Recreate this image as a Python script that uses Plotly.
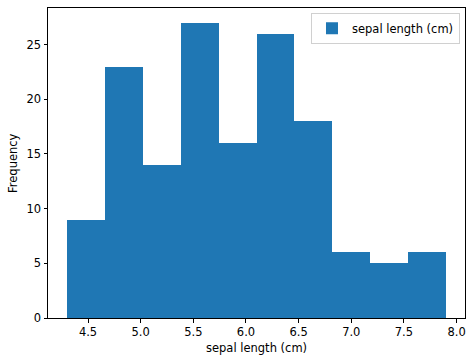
import plotly.graph_objects as go

bin_edges = [4.3, 4.66, 5.02, 5.38, 5.74, 6.1, 6.46, 6.82, 7.18, 7.54, 7.9]
counts = [9, 23, 14, 27, 16, 26, 18, 6, 5, 6]
x_ticks = [4.5, 5.0, 5.5, 6.0, 6.5, 7.0, 7.5, 8.0]
y_ticks = [0, 5, 10, 15, 20, 25]
series_name = "sepal length (cm)"

centers = [(bin_edges[i] + bin_edges[i + 1]) / 2 for i in range(len(counts))]
widths = [bin_edges[i + 1] - bin_edges[i] for i in range(len(counts))]

fig = go.Figure()
fig.add_trace(go.Bar(
    x=centers, y=counts, width=widths, name=series_name,
    marker=dict(color="#1f77b4", line=dict(width=0)),
    showlegend=True,
))

FS = 11.5
font = dict(family="DejaVu Sans", size=FS, color="black")
W, H = 474, 363
L, R, T, B = 48, 9, 8, 45
fig.update_layout(
    width=W, height=H,
    margin=dict(l=L, r=R, t=T, b=B),
    paper_bgcolor="white", plot_bgcolor="white",
    font=font,
    bargap=0,
    legend=dict(x=0.988, y=0.985, xanchor="right", yanchor="top",
                bgcolor="rgba(255,255,255,0.8)", bordercolor="#d0d0d0", borderwidth=1,
                font=dict(family="DejaVu Sans", size=FS), itemwidth=30,
                tracegroupgap=0),
    xaxis=dict(
        range=[4.12, 8.08], tickvals=x_ticks, ticktext=[f"{v:.1f}" for v in x_ticks],
        showgrid=False, zeroline=False, showline=True, linecolor="black", linewidth=1,
        mirror=True, ticks="outside", ticklen=3.5, tickcolor="black", automargin=False,
        tickfont=font,
    ),
    yaxis=dict(
        range=[0, 28.35], tickvals=y_ticks,
        showgrid=False, zeroline=False, showline=True, linecolor="black", linewidth=1,
        mirror=True, ticks="outside", ticklen=3.5, tickcolor="black", automargin=False,
        tickfont=font,
    ),
    annotations=[
        dict(text="sepal length (cm)", xref="paper", yref="paper",
             x=0.5, y=-(348 - (H - B)) / (H - T - B), xanchor="center", yanchor="middle",
             showarrow=False, font=font),
        dict(text="Frequency", xref="paper", yref="paper",
             x=-(L - 13) / (W - L - R), y=0.5, xanchor="center", yanchor="middle",
             textangle=-90, showarrow=False, font=font),
    ],
)
fig.write_html("out.html", config={"displayModeBar": False},
               post_script="document.body.style.margin='0';document.body.style.overflow='hidden';")
